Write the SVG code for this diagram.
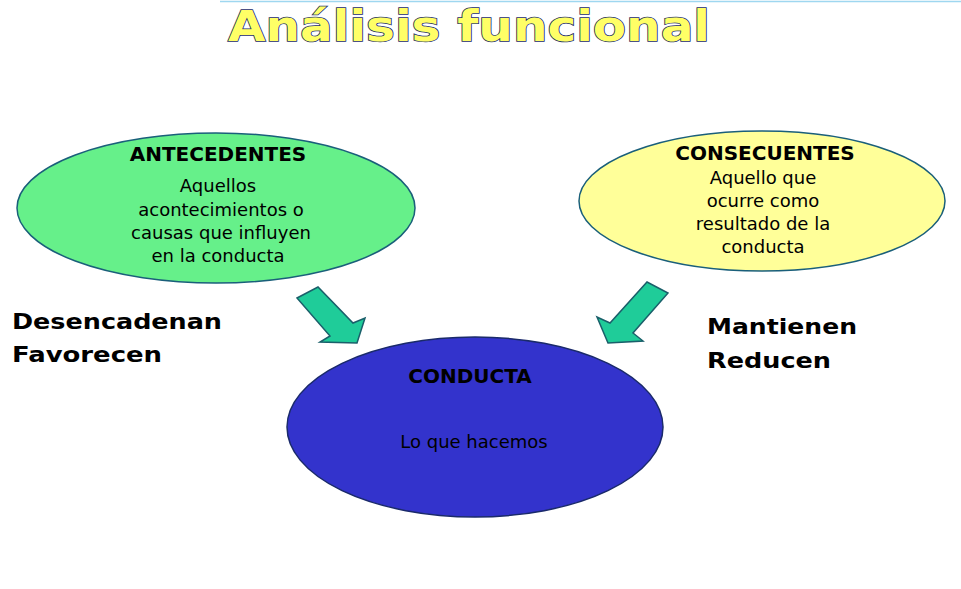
<svg xmlns="http://www.w3.org/2000/svg" width="961" height="589" viewBox="0 0 961 589">
<style>
.t{font-family:"DejaVu Sans",Verdana,sans-serif;font-size:18px;fill:#000;text-anchor:middle}
.b{font-family:"DejaVu Sans",Verdana,sans-serif;font-size:20px;font-weight:bold;fill:#000}
.l{font-family:"DejaVu Sans",Verdana,sans-serif;font-size:21px;font-weight:bold;fill:#000}
.arr{fill:#1fcc99;stroke:#1a5f6a;stroke-width:1.5}
</style>
<rect width="961" height="589" fill="#fff"/>
<line x1="220" y1="1.5" x2="961" y2="1.5" stroke="#9fd7f0" stroke-width="1.5"/>
<text x="228" y="41" font-family="'DejaVu Sans',Verdana,sans-serif" font-size="42" font-weight="bold" textLength="482" lengthAdjust="spacingAndGlyphs" fill="#ffff66" stroke="#1a2a6a" stroke-width="1.5" paint-order="stroke">Análisis funcional</text>
<g id="connectors">
<polygon class="arr" points="297,298 318,287 353,323 365,318 357,343 320,342 330,336"/>
<polygon class="arr" points="647,282 668,293 633,333 643,341 608,343 597,317 610,323"/>
</g>
<g id="antecedentes">
<ellipse cx="216" cy="208" rx="199" ry="75" fill="#66f08a" stroke="#1a5f7a" stroke-width="1.5"/>
<text x="218" y="161" class="b" text-anchor="middle">ANTECEDENTES</text>
<text class="t" x="218" y="192">Aquellos</text>
<text class="t" x="221" y="216">acontecimientos o</text>
<text class="t" x="221" y="239">causas que influyen</text>
<text class="t" x="218" y="262">en la conducta</text>
</g>
<g id="consecuentes">
<ellipse cx="762" cy="201" rx="183" ry="70" fill="#ffff99" stroke="#1a5f7a" stroke-width="1.5"/>
<text x="765" y="160" class="b" text-anchor="middle">CONSECUENTES</text>
<text class="t" x="763" y="184">Aquello que</text>
<text class="t" x="763" y="207">ocurre como</text>
<text class="t" x="763" y="230">resultado de la</text>
<text class="t" x="763" y="253">conducta</text>
</g>
<g id="conducta">
<ellipse cx="475" cy="427" rx="188" ry="90" fill="#3333cc" stroke="#1a2a6a" stroke-width="1.5"/>
<text x="470" y="383" class="b" text-anchor="middle">CONDUCTA</text>
<text class="t" x="474" y="448">Lo que hacemos</text>
</g>
<g id="labels-left">
<text class="l" x="12" y="329" textLength="210" lengthAdjust="spacingAndGlyphs">Desencadenan</text>
<text class="l" x="12" y="362" textLength="150" lengthAdjust="spacingAndGlyphs">Favorecen</text>
</g>
<g id="labels-right">
<text class="l" x="707" y="334" textLength="150" lengthAdjust="spacingAndGlyphs">Mantienen</text>
<text class="l" x="707" y="368" textLength="124" lengthAdjust="spacingAndGlyphs">Reducen</text>
</g>
</svg>
